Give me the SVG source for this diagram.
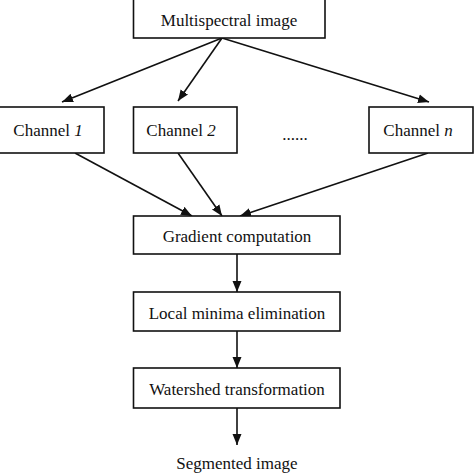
<svg xmlns="http://www.w3.org/2000/svg" width="474" height="474" viewBox="0 0 474 474">
<style>
.box{fill:#fff;stroke:#111;stroke-width:1.6}
.t{font-family:"Liberation Serif","Times New Roman",serif;font-size:17px;fill:#111;text-anchor:middle}
.c{stroke:#111;stroke-width:1.6;fill:none;marker-end:url(#ah)}
</style>
<defs>
<marker id="ah" markerWidth="11" markerHeight="10" refX="11" refY="5" orient="auto" markerUnits="userSpaceOnUse">
<path d="M0,0.5 L11,5 L0,9.5 Z" fill="#111"/>
</marker>
</defs>
<rect width="474" height="474" fill="#fff"/>
<g id="connectors">
<line class="c" x1="222" y1="38" x2="62" y2="102"/>
<line class="c" x1="222" y1="38" x2="178" y2="101"/>
<line class="c" x1="222" y1="38" x2="429" y2="102"/>
<line class="c" x1="75" y1="153" x2="192" y2="216"/>
<line class="c" x1="178" y1="153" x2="222" y2="216"/>
<line class="c" x1="428" y1="153" x2="240" y2="216"/>
<line class="c" x1="237" y1="254" x2="237" y2="292"/>
<line class="c" x1="237" y1="331" x2="237" y2="368"/>
<line class="c" x1="237" y1="408" x2="237" y2="445"/>
</g>
<g id="multispectral">
<rect class="box" x="133.5" y="-1" width="191.5" height="39"/>
<text class="t" x="229" y="25.5">Multispectral image</text>
</g>
<g id="channel1">
<rect class="box" x="-1" y="107" width="105" height="46"/>
<text class="t" x="48" y="136">Channel <tspan font-style="italic">1</tspan></text>
</g>
<g id="channel2">
<rect class="box" x="133.5" y="107" width="103.5" height="46"/>
<text class="t" x="181" y="136">Channel <tspan font-style="italic">2</tspan></text>
</g>
<g id="dots">
<text class="t" x="295" y="140">......</text>
</g>
<g id="channeln">
<rect class="box" x="369" y="107" width="104" height="46"/>
<text class="t" x="418" y="136">Channel <tspan font-style="italic">n</tspan></text>
</g>
<g id="gradient">
<rect class="box" x="133.5" y="216" width="206.5" height="38"/>
<text class="t" x="237" y="242">Gradient computation</text>
</g>
<g id="localmin">
<rect class="box" x="133.5" y="292" width="206.5" height="39"/>
<text class="t" x="237" y="319">Local minima elimination</text>
</g>
<g id="watershed">
<rect class="box" x="133.5" y="368" width="206.5" height="40"/>
<text class="t" x="237" y="395">Watershed transformation</text>
</g>
<g id="segmented">
<text class="t" x="237" y="469">Segmented image</text>
</g>
</svg>
